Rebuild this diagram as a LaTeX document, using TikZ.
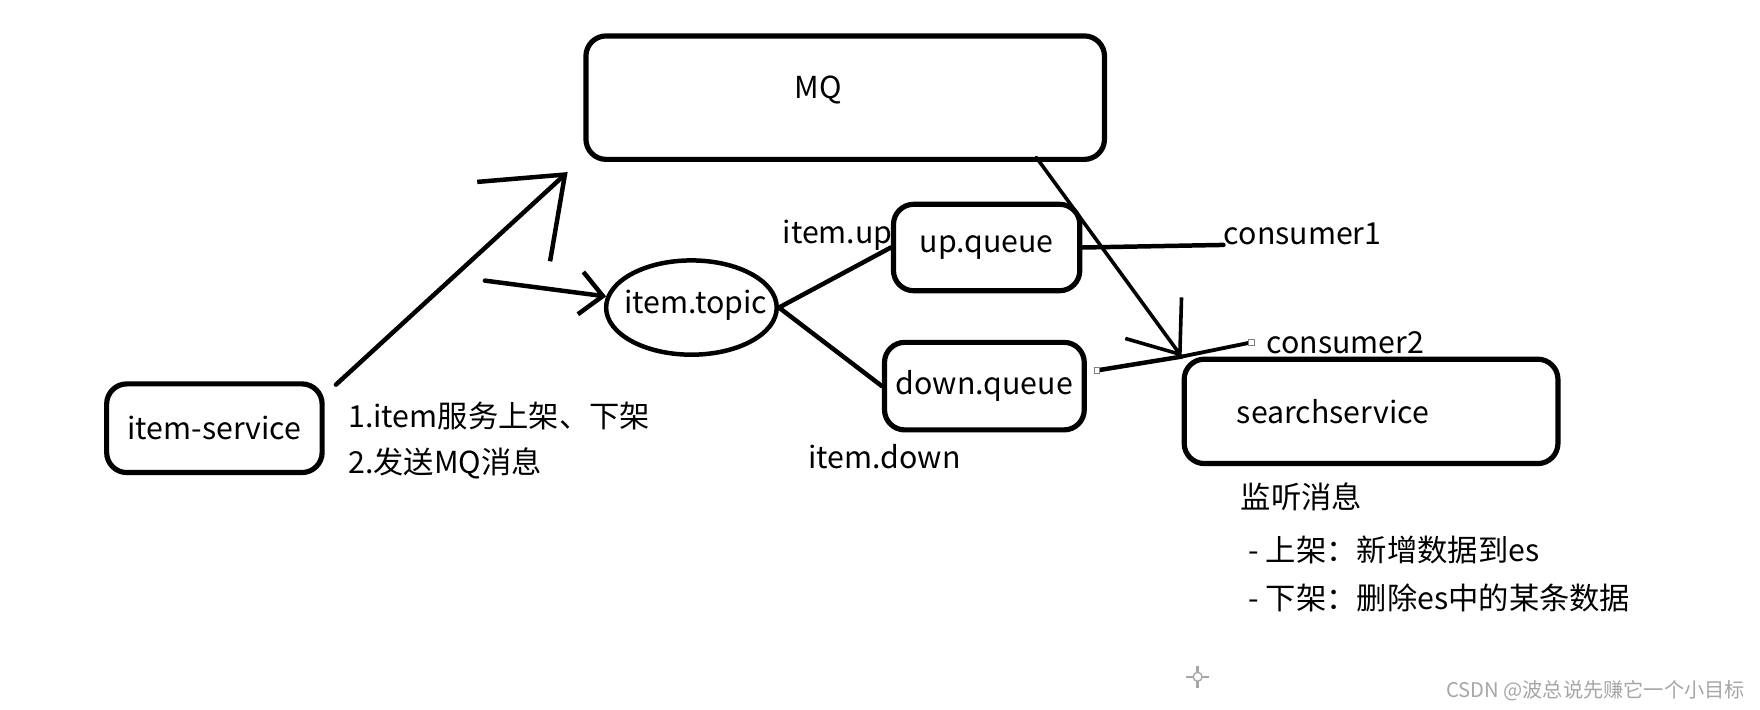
\documentclass[tikz,border=0pt]{standalone}
\usepackage{fontspec}
\setmainfont{Noto Sans CJK SC}
\usetikzlibrary{arrows.meta,shapes.geometric}

\begin{document}
\begin{tikzpicture}[x=0.5pt,y=-0.5pt]
        \tikzstyle{every node} = [font=\fontsize{13.5pt}{16pt}\selectfont, inner sep=0pt]
        \tikzstyle{box} = [draw, line width=2.3pt, rounded corners=9pt]
        \tikzstyle{txt} = [anchor=west]
        \tikzstyle{link} = [line width=2pt, line cap=round]
        \tikzstyle{handle} = [draw=gray, fill=white, line width=0.3pt, minimum size=2.5pt]
        \useasboundingbox (0,0) rectangle (1568,632);
        % boxes
        \node[box, minimum width=231pt, minimum height=55pt,
              label={[xshift=-12pt,yshift=3.5pt]center:MQ}] (mq) at (753,87) {};
        \node[box, minimum width=96pt, minimum height=39.5pt] (svc) at (191,381.5) {item-service};
        \node[draw, ellipse, line width=2pt, minimum width=76pt, minimum height=42pt,
              label={[xshift=2pt,yshift=1pt]center:item.topic}] (topic) at (616,274) {};
        \node[box, minimum width=83pt, minimum height=38.5pt] (upq) at (879,220.5) {up.queue};
        \node[box, minimum width=89pt, minimum height=39pt] (downq) at (877,344) {down.queue};
        \node[box, minimum width=166.5pt, minimum height=46.5pt,
              label={[xshift=-17pt]center:searchservice}] (search) at (1221.5,366.5) {};
        % labels
        \node[txt] (up) at (697,210) {item.up};
        \node[txt] (down) at (720,407) {item.down};
        \node[txt] (cons1) at (1090,208) {consumer1};
        \node[txt] (cons2) at (1128,305) {consumer2};
        \node[txt] (step1) at (310,371) {1.item服务上架、下架};
        \node[txt] (step2) at (310,413) {2.发送MQ消息};
        \node[txt] (listen) at (1105,443) {监听消息};
        \node[txt] (onup) at (1112,490) {- 上架：新增数据到es};
        \node[txt] (ondown) at (1112,533) {- 下架：删除es中的某条数据};
        \node[anchor=east, text=gray!70, font=\fontsize{9pt}{11pt}\selectfont] (mark) at (1555,615) {CSDN @波总说先赚它一个小目标};
        % connectors
        \coordinate (feed) at (432,250);
        \draw[link, -{Straight Barb[length=31pt,width=48pt]}]
            ([xshift=5pt,yshift=-1.5pt]svc.north east) -- ([xshift=-7pt,yshift=-4.5pt]mq.south west);
        \draw[link, -{Straight Barb[length=10pt,width=19pt]}] (feed) -- (topic);
        \foreach \from/\to in {topic.east/upq.west, topic.east/downq.west, upq.east/cons1.south west}
            \draw[link] (\from) -- (\to);
        \draw[link, line width=1.6pt, -{Straight Barb[length=20pt,width=31pt]}]
            ([xshift=-31.5pt,yshift=2pt]mq.south east) -- (search.north west);
        \draw[link] ([xshift=4.5pt,yshift=7pt]downq.east) node[handle] {} -- (search.north west);
        \draw[link, line width=1.7pt] (search.north west) -- ([xshift=-6.5pt]cons2.west) node[handle] {};
        % cursor
        \draw[gray!70, line width=1.2pt] (1057,603) -- (1077,603) (1067,593) -- (1067,613);
        \draw[gray!70, fill=white, line width=0.6pt] (1067,603) circle (2pt);
\end{tikzpicture}
\end{document}
